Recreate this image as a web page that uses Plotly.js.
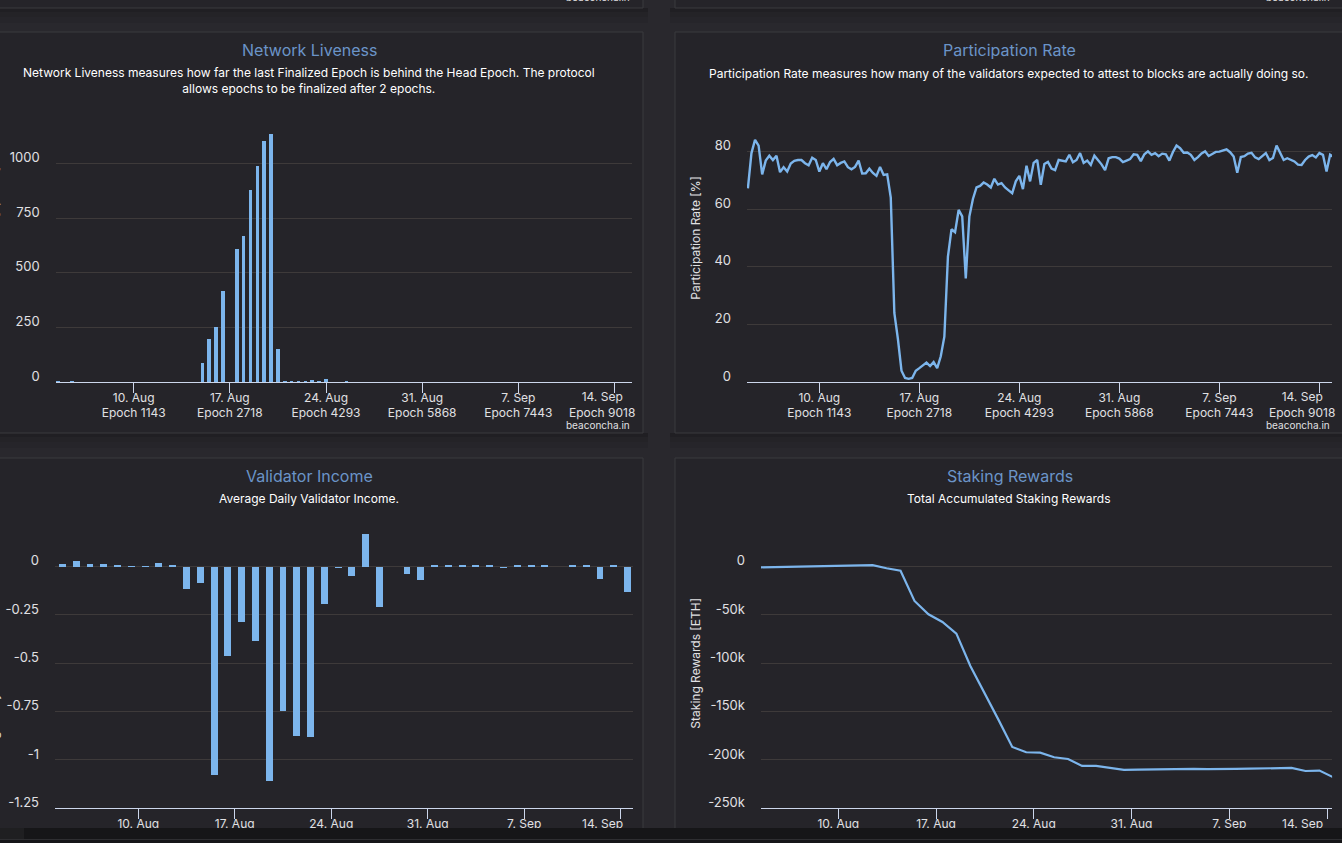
<!DOCTYPE html>
<html><head><meta charset="utf-8">
<script src="https://cdn.plot.ly/plotly-3.0.1.min.js"></script>
<style>
html,body{margin:0;padding:0;background:#29282d;overflow:hidden}
#wrap{position:relative;width:1342px;height:843px}
#chart{width:1342px;height:843px}
#bar{position:absolute;left:0;top:828px;width:1342px;height:15px;background:#161618}
#bar .l{position:absolute;left:0;top:0;width:24px;height:11px;background:#1f1f21}
#bar .s{position:absolute;left:0;top:11px;width:1342px;height:1px;background:#2e2e31}
</style>
</head><body><div id="wrap"><div id="chart"></div><div id="bar"><div class="l"></div><div class="s"></div></div></div>
<script>
// ---------- data ----------
const weekTicks = ['2020-08-10','2020-08-17','2020-08-24','2020-08-31','2020-09-07','2020-09-14'];
const weekLabels = ['10. Aug','17. Aug','24. Aug','31. Aug','7. Sep','14. Sep'];
const epochLabels = ['Epoch 1143','Epoch 2718','Epoch 4293','Epoch 5868','Epoch 7443','Epoch 9018'];

// Network liveness: epochs behind head, one bar every 12 hours
const livenessStart = '2020-08-04 12:00';
const livenessStepHours = 12;
const livenessEpochs = [4,0,5,0,0,0,0,0,0,0,0,0,0,0,0,0,0,0,0,0,0,
  87,198,253,417,0,609,669,880,989,1103,1135,152,5,5,5,5,9,5,15,0,0,5];

// Participation rate [%], one point every 6 hours
const participationStart = '2020-08-05 00:00';
const participationStepHours = 6;
const participationRate = [67.2,79.4,84,82,72,76.8,78.5,77,78.5,72.8,74.5,73,75.8,76.7,77,77,75.9,75.2,77.8,77,
  73,75.9,73.8,76.3,77.4,75.2,76,76.5,74.5,73.8,74.6,76.8,72.3,72.4,74,72.5,71.5,74.6,71.8,72,
  64,24,15,4,1.5,1.2,1.5,4,4.9,6,6.8,5.6,7,4.9,9,15.8,43.5,53,52,59.7,
  57.5,36,57.4,63.5,67.5,68,69.2,68.5,67.5,70.5,68.5,69,67.5,66.5,65.5,69.6,71.5,66.9,75,69.6,
  76,77,68.4,75.6,76.3,74,73.5,77,76.8,76.5,78.8,76.2,77,79.4,76,76.8,75.3,78.5,77,75.5,
  73.5,77.6,78,78,77.5,76.3,76.8,77.3,79,78.8,76.6,79,80,78.8,79.4,78.3,79.2,79,76.8,79.8,
  82,81.1,79.5,79.6,78.8,77,78,79.3,80,78.4,79.1,79.8,79.9,80.3,80.7,79.7,78.2,72.6,78,78.3,
  79.2,79.5,77.9,77.3,78.2,79.4,77,77.7,82,79.5,77,77.6,77,76.5,75.4,75.3,77,78.2,78.7,77.9,
  79.4,78.8,73,78.8,78];

// Validator income [ETH], daily (4 Aug .. 14 Sep)
const incomeStart = '2020-08-04 12:00';
const incomeEth = [0.012,0.028,0.014,0.014,0.009,0.004,0.003,0.017,0.009,-0.118,-0.086,-1.077,-0.46,-0.284,
  -0.387,-1.108,-0.745,-0.875,-0.88,-0.195,-0.008,-0.048,0.168,-0.209,0,-0.038,-0.069,0.006,
  0.006,0.006,0.006,0.006,-0.006,0.006,0.006,0.006,0,0.006,0.006,-0.064,0.006,-0.131];

// Total accumulated staking rewards [ETH], daily (4 Aug .. 14 Sep)
const rewardsStart = '2020-08-04 11:00';
const rewardsEth = [-700,-500,-300,-100,100,300,600,1000,1500,-1700,-4300,-35500,-49300,-57200,
  -69300,-102800,-130000,-158000,-186500,-192000,-192400,-197200,-199000,-206200,-206200,-208000,-210300,-210000,
  -209700,-209600,-209400,-209300,-209500,-209600,-209300,-209000,-208800,-208500,-208200,-211400,-211000,-218000];

// ---------- styling ----------
const W = 1342, H = 843;
const fx = px => px / W;
const fy = px => 1 - px / H;
const HOUR = 3600000, DAY = 24 * HOUR;
const FONT = 'Inter, "Open Sans", sans-serif';
const BLUE = '#7cb5ec';
const AXIS = '#ccd6eb';
const GRID = '#3e3a3a';
const LABEL = '#e0e0e3';
const PANEL = '#252429';
const BORDER = '#3b3a3f';
const TITLE = '#6b94c8';

const last = weekTicks.length - 1;
// the last tick label is justified inside the plot (drawn as an annotation below)
const epochTickText = weekLabels.map((w, i) => i === last ? '' : w + '<br>' + epochLabels[i]);
const dateTickText = weekLabels.map((w, i) => i === last ? '' : w);

function xAxis(domain, range, ticktext) {
  return {
    type: 'date', domain, range, tickvals: weekTicks, ticktext,
    ticks: 'outside', ticklen: 10, tickcolor: AXIS, tickwidth: 1,
    showline: true, linecolor: AXIS, linewidth: 1, showgrid: false, zeroline: false,
    tickfont: {family: FONT, size: 12, color: LABEL}, ticklabelstandoff: -6, fixedrange: true
  };
}
function yAxis(domain, range, tickvals, ticktext, extra) {
  return Object.assign({
    domain, range, tickvals, ticktext, ticks: '', showline: false, zeroline: false,
    showgrid: true, gridcolor: GRID, gridwidth: 1,
    tickfont: {family: FONT, size: 13, color: LABEL},
    ticklabelshift: -6, ticklabelstandoff: 15, fixedrange: true
  }, extra || {});
}

const traces = [
  {type: 'bar', x0: livenessStart, dx: livenessStepHours * HOUR, y: livenessEpochs,
   width: 22.6e6, marker: {color: BLUE, line: {width: 0}}, xaxis: 'x', yaxis: 'y', hoverinfo: 'skip'},
  {type: 'scatter', mode: 'lines', x0: participationStart, dx: participationStepHours * HOUR, y: participationRate,
   line: {color: BLUE, width: 2.4}, xaxis: 'x2', yaxis: 'y2', hoverinfo: 'skip'},
  {type: 'bar', x0: incomeStart, dx: DAY, y: incomeEth,
   width: 0.5 * DAY, marker: {color: BLUE, line: {width: 0}}, xaxis: 'x3', yaxis: 'y3', hoverinfo: 'skip'},
  {type: 'scatter', mode: 'lines', x0: rewardsStart, dx: DAY, y: rewardsEth,
   line: {color: BLUE, width: 2.2}, xaxis: 'x4', yaxis: 'y4', hoverinfo: 'skip'}
];

function rect(x0, y0, x1, y1, fill, line, layer) {
  return {type: 'rect', xref: 'paper', yref: 'paper', x0: fx(x0), x1: fx(x1), y0: fy(y1), y1: fy(y0),
    fillcolor: fill, line: line ? {color: line, width: 1} : {width: 0}, layer: layer || 'below'};
}
function shadow(x0, x1, yTop) {
  return [
    rect(x0, yTop, x1, yTop + 4, 'rgba(0,0,0,0.22)'),
    rect(x0, yTop + 4, x1, yTop + 9, 'rgba(0,0,0,0.12)'),
    rect(x0, yTop + 9, x1, yTop + 15, 'rgba(0,0,0,0.05)')
  ];
}
const shapes = [
  ...shadow(-10, 648, 8), ...shadow(670, 1352, 8),
  ...shadow(-10, 648, 433), ...shadow(670, 1352, 433),
  rect(-10, -10, 643, 8, PANEL, BORDER),
  rect(675, -10, 1352, 8, PANEL, BORDER),
  rect(-10, 32, 643, 433, PANEL, BORDER),
  rect(675, 32, 1352, 433, PANEL, BORDER),
  rect(-10, 458, 643, 860, PANEL, BORDER),
  rect(675, 458, 1352, 860, PANEL, BORDER)
];

function ann(text, xpx, ypx, size, color, extra) {
  return Object.assign({text, xref: 'paper', yref: 'paper', x: fx(xpx), y: fy(ypx),
    showarrow: false, xanchor: 'center', yanchor: 'middle',
    font: {family: FONT, size, color}}, extra || {});
}
const annotations = [
  ann('Network Liveness', 309.5, 50, 16, TITLE),
  ann('Network Liveness measures how far the last Finalized Epoch is behind the Head Epoch. The protocol<br>allows epochs to be finalized after 2 epochs.', 309, 80, 12, '#ffffff'),
  ann('Participation Rate', 1009, 50, 16, TITLE),
  ann('Participation Rate measures how many of the validators expected to attest to blocks are actually doing so.', 1009, 73, 12, '#ffffff'),
  ann('Validator Income', 309, 476, 16, TITLE),
  ann('Average Daily Validator Income.', 309, 498, 12, '#ffffff'),
  ann('Staking Rewards', 1009.5, 476, 16, TITLE),
  ann('Total Accumulated Staking Rewards', 1009, 498, 12, '#ffffff'),
  // justified last tick labels
  ann(weekLabels[last] + '<br>' + epochLabels[last], 602, 404, 12, LABEL),
  ann(weekLabels[last] + '<br>' + epochLabels[last], 1302, 404, 12, LABEL),
  ann(weekLabels[last], 602.5, 823, 12, LABEL),
  ann(weekLabels[last], 1302, 823, 12, LABEL),
  ann('beaconcha.in', 632, 425, 10, LABEL, {xanchor: 'right'}),
  ann('beaconcha.in', 1332, 425, 10, LABEL, {xanchor: 'right'}),
  ann('beaconcha.in', 632, -3, 10, LABEL, {xanchor: 'right'}),
  ann('beaconcha.in', 1332, -3, 10, LABEL, {xanchor: 'right'}),
  ann('Network Liveness [epochs]', -7, 245, 12, LABEL, {textangle: -90}),
  ann('Average Daily Validator Income [ETH]', -7, 665, 12, LABEL, {textangle: -90})
];

const layout = {
  width: W, height: H, margin: {l: 0, r: 0, t: 0, b: 0},
  paper_bgcolor: '#29282d', plot_bgcolor: 'rgba(0,0,0,0)',
  showlegend: false, bargap: 0, font: {family: FONT, color: LABEL},
  xaxis: xAxis([fx(55.6), fx(632.4)], ['2020-08-04 07:35', '2020-09-15 07:15'], epochTickText),
  yaxis: yAxis([fy(382.3), fy(108.6)], [0, 1250], [0, 250, 500, 750, 1000, 1250], ['0', '250', '500', '750', '1000', '']),
  xaxis2: xAxis([fx(747), fx(1332)], ['2020-08-04 22:30', '2020-09-14 21:10'], epochTickText),
  yaxis2: yAxis([fy(382.3), fy(93.6)], [0, 100], [0, 20, 40, 60, 80, 100], ['0', '20', '40', '60', '80', ''],
    {title: {text: 'Participation Rate [%]', font: {family: FONT, size: 12, color: LABEL}, standoff: 11}}),
  xaxis3: xAxis([fx(55), fx(632.7)], ['2020-08-03 23:00', '2020-09-14 21:00'], dateTickText),
  yaxis3: yAxis([fy(808.3), fy(518.3)], [-1.25, 0.25], [-1.25, -1, -0.75, -0.5, -0.25, 0, 0.25], ['-1.25', '-1', '-0.75', '-0.5', '-0.25', '0', '']),
  xaxis4: xAxis([fx(760.9), fx(1332.1)], ['2020-08-04 11:00', '2020-09-14 08:45'], dateTickText),
  yaxis4: yAxis([fy(808.3), fy(518.3)], [-250000, 50000], [-250000, -200000, -150000, -100000, -50000, 0, 50000], ['-250k', '-200k', '-150k', '-100k', '-50k', '0', ''],
    {title: {text: 'Staking Rewards [ETH]', font: {family: FONT, size: 12, color: LABEL}, standoff: 4}}),
  shapes, annotations
};
layout.xaxis.anchor = 'y'; layout.yaxis.anchor = 'x';
layout.xaxis2.anchor = 'y2'; layout.yaxis2.anchor = 'x2';
layout.xaxis3.anchor = 'y3'; layout.yaxis3.anchor = 'x3';
layout.xaxis4.anchor = 'y4'; layout.yaxis4.anchor = 'x4';

Plotly.newPlot('chart', traces, layout, {staticPlot: true, displayModeBar: false});
</script></body></html>
